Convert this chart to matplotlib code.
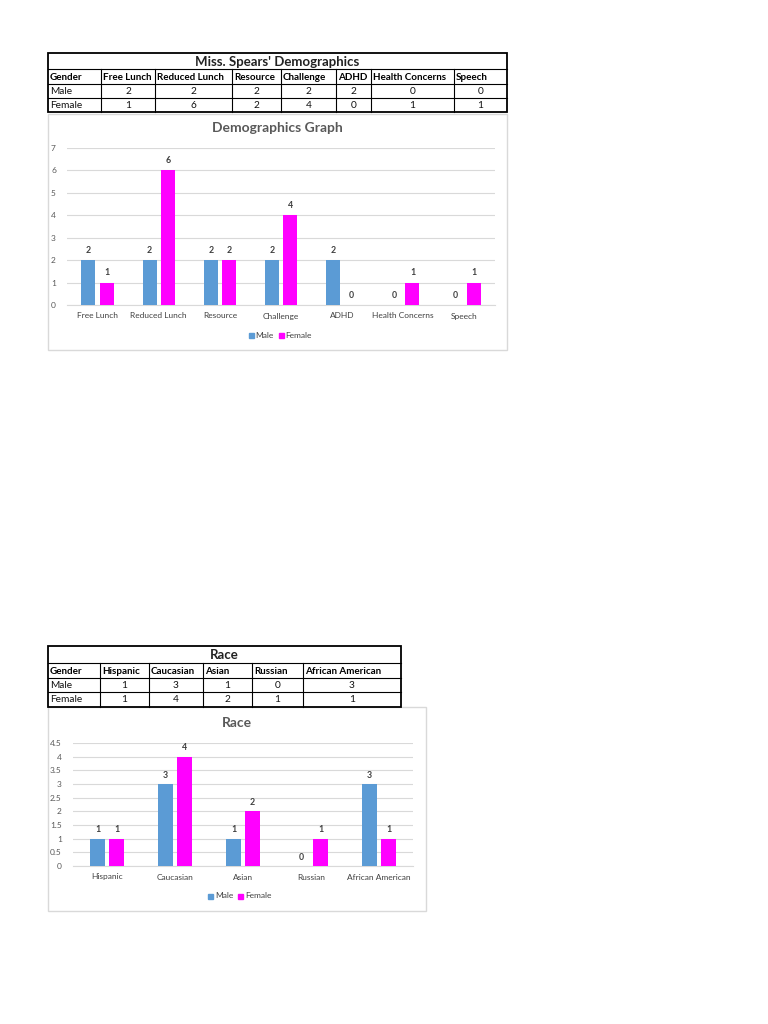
import numpy as np
import matplotlib.pyplot as plt
from matplotlib.patches import Rectangle

plt.rcParams['font.family'] = ['Lato', 'DejaVu Sans']

# Data
demo_cats = ['Free Lunch', 'Reduced Lunch', 'Resource', 'Challenge', 'ADHD', 'Health Concerns', 'Speech']
demo_male = [2, 2, 2, 2, 2, 0, 0]
demo_female = [1, 6, 2, 4, 0, 1, 1]

race_cats = ['Hispanic', 'Caucasian', 'Asian', 'Russian', 'African American']
race_male = [1, 3, 1, 0, 3]
race_female = [1, 4, 2, 1, 1]

MALE = '#5B9BD5'
FEMALE = '#FF00FF'
W, H = 768, 1024

fig = plt.figure(figsize=(W / 100, H / 100), dpi=100)
page = fig.add_axes([0, 0, 1, 1])
page.set_xlim(0, W)
page.set_ylim(H, 0)
page.axis('off')


def draw_table(title, cats, male, female, col_edges, y_edges):
    x0, x1 = col_edges[0], col_edges[-1]
    y0, y1 = y_edges[0], y_edges[-1]
    # grid lines
    for y in y_edges[1:-1]:
        page.plot([x0, x1], [y, y], color='black', lw=0.8, zorder=5)
    for x in col_edges[1:-1]:
        page.plot([x, x], [y_edges[1], y1], color='black', lw=0.8, zorder=5)
    page.add_patch(Rectangle((x0, y0), x1 - x0, y1 - y0, fill=False, ec='black', lw=1.3, zorder=6))
    page.text((x0 + x1) / 2, (y_edges[0] + y_edges[1]) / 2 + 0.5, title,
              ha='center', va='center', fontsize=9.5, fontweight='bold', color='#222222')
    header = ['Gender'] + cats
    rows = [['Male'] + [str(v) for v in male], ['Female'] + [str(v) for v in female]]
    for i, h in enumerate(header):
        page.text(col_edges[i] + 2, (y_edges[1] + y_edges[2]) / 2 + 0.5, h,
                  ha='left', va='center', fontsize=7.1, fontweight='bold', color='black')
    for r, row in enumerate(rows):
        yc = (y_edges[2 + r] + y_edges[3 + r]) / 2 + 0.5
        for i, v in enumerate(row):
            if i == 0:
                page.text(col_edges[i] + 2, yc, v, ha='left', va='center', fontsize=7.3, color='#111111')
            else:
                page.text((col_edges[i] + col_edges[i + 1]) / 2, yc, v,
                          ha='center', va='center', fontsize=7.3, color='#111111')


def draw_chart(box, plot, title, cats, male, female, ymax, ystep, yfmt, title_y, xlab_y, leg_y,
               bw, off):
    bx0, by0, bx1, by1 = box
    page.add_patch(Rectangle((bx0, by0), bx1 - bx0, by1 - by0, fill=False, ec='#D9D9D9', lw=1, zorder=1))
    px0, py0, px1, py1 = plot
    ax = fig.add_axes([px0 / W, 1 - py0 / H, (px1 - px0) / W, (py0 - py1) / H])
    x = np.arange(len(cats))
    b1 = ax.bar(x - off, male, bw, color=MALE, zorder=3)
    b2 = ax.bar(x + off, female, bw, color=FEMALE, zorder=3)
    for bars, vals in ((b1, male), (b2, female)):
        for b, v in zip(bars, vals):
            ax.text(b.get_x() + b.get_width() / 2, v + ymax * 0.035, str(v),
                    ha='center', va='bottom', fontsize=6.3, fontweight='bold', color='#404040')
    ax.set_xlim(-0.5, len(cats) - 0.5)
    ax.set_ylim(0, ymax)
    ticks = np.arange(0, ymax + 1e-9, ystep)
    ax.set_yticks(ticks)
    ax.set_yticklabels([yfmt(t) for t in ticks], fontsize=6, color='#595959')
    ax.yaxis.grid(True, color='#D9D9D9', lw=0.8, zorder=0)
    ax.set_axisbelow(True)
    for s in ['top', 'right', 'left']:
        ax.spines[s].set_visible(False)
    ax.spines['bottom'].set_color('#D9D9D9')
    ax.tick_params(axis='both', length=0, pad=8)
    ax.set_xticks([])
    ax.patch.set_alpha(0)
    for i, c in enumerate(cats):
        page.text(px0 + (i + 0.5) * (px1 - px0) / len(cats), xlab_y, c,
                  ha='center', va='center', fontsize=6, color='#404040')
    page.text((bx0 + bx1) / 2, title_y, title, ha='center', va='center',
              fontsize=10, fontweight='bold', color='#595959')
    cx = (bx0 + bx1) / 2
    page.add_patch(Rectangle((cx - 29, leg_y - 2.5), 5, 5, color=MALE))
    page.text(cx - 22, leg_y, 'Male', ha='left', va='center', fontsize=6, color='#404040')
    page.add_patch(Rectangle((cx + 1, leg_y - 2.5), 5, 5, color=FEMALE))
    page.text(cx + 8, leg_y, 'Female', ha='left', va='center', fontsize=6, color='#404040')


draw_table("Miss. Spears' Demographics", demo_cats, demo_male, demo_female,
           [48, 101, 155, 232, 281, 336, 371, 454, 507], [53, 69, 84, 98, 112])
draw_chart((48, 114, 507, 350), (67, 305, 495, 148), 'Demographics Graph',
           demo_cats, demo_male, demo_female, 7, 1, lambda t: '%d' % t,
           128, 316, 335, 0.23, 0.15)

draw_table('Race', race_cats, race_male, race_female,
           [48, 100, 149, 203, 252, 303, 401], [646, 663, 678, 692, 707])
draw_chart((48, 707, 426, 911), (73, 866, 413, 743), 'Race',
           race_cats, race_male, race_female, 4.5, 0.5, lambda t: ('%g' % t),
           723, 877, 896, 0.21, 0.14)

fig.savefig('out.png', dpi=100)
